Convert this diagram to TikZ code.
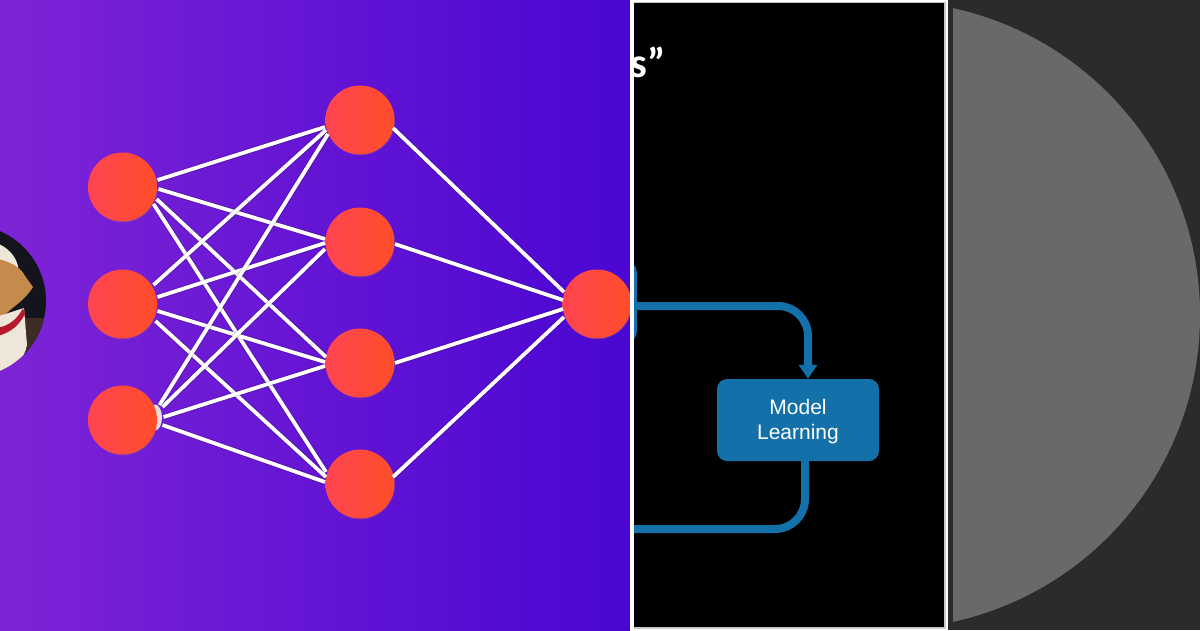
\documentclass[tikz,border=0pt]{standalone}
\usepackage{fontspec}
\setmainfont{Liberation Sans}
\newfontfamily\quotefont{Carlito}
\usetikzlibrary{arrows.meta,shadows}
\definecolor{blueflow}{HTML}{1470A8}
\definecolor{frameg}{HTML}{C8C8C8}
\definecolor{darkbg}{HTML}{2B2B2B}
\definecolor{greydisc}{HTML}{696969}
\definecolor{furtan}{HTML}{C58B4C}
\definecolor{furlight}{HTML}{EFE6DA}
\definecolor{collarred}{HTML}{B8182E}
\definecolor{photodark}{HTML}{14141C}
\definecolor{photobrown}{HTML}{3B2C26}
\tikzset{
  neuron/.style={circle,minimum size=69pt,inner sep=0pt,
    left color={rgb,255:red,255;green,68;blue,80},right color={rgb,255:red,255;green,78;blue,42},
    drop shadow={shadow xshift=.6pt,shadow yshift=-1pt,opacity=.25}},
  synapse/.style={draw=white,line width=3.8pt,preaction={draw=black,draw opacity=.15,line width=5.8pt}},
  flowbox/.style={fill=blueflow,rounded corners=10pt,inner sep=0pt},
  flowtext/.style={text=white,align=center,inner sep=0pt,font=\fontsize{21}{25.5}\selectfont},
  flowline/.style={draw=blueflow,line width=8pt,rounded corners=30pt}
}
\begin{document}
\begin{tikzpicture}[x=1pt,y=-1pt]
\useasboundingbox (0,0) rectangle (1200,630);
\fill[white] (0,0) rectangle (1200,630);
% left purple panel
\begin{scope}
\clip (0,0) rectangle (630,630);
\shade[left color={rgb,255:red,126;green,36;blue,214},middle color={rgb,255:red,96;green,18;blue,218},right color={rgb,255:red,74;green,6;blue,210}] (0,0) rectangle (630,630);
% photo
\begin{scope}
\clip (-30,301) circle (76);
\fill[photodark] (-110,220) rectangle (50,380);
\fill[photobrown] (24,318) rectangle (50,380);
\fill[furlight] (-20,240) .. controls (-2,240) and (14,250) .. (18,266) -- (18,285) -- (-20,285) -- cycle;
\fill[furtan] (-20,258) .. controls (5,256) and (22,268) .. (25,276) -- (33,287) .. controls (25,300) and (14,306) .. (8,312) .. controls (0,318) and (-10,318) .. (-20,318) -- cycle;
\fill[furlight] (-20,322) -- (24,308) -- (27,345) .. controls (24,360) and (15,372) .. (-20,380) -- cycle;
\fill[collarred] (-20,326) .. controls (0,332) and (15,324) .. (23,308) -- (25,314) .. controls (18,328) and (5,338) .. (-20,338) -- cycle;
\end{scope}
% white patch behind the lower left neuron
\fill[white!88!black] (155,417.5) ellipse (7 and 13);
% neurons
\node[neuron] (a1) at (122.5,187) {};
\node[neuron] (a2) at (122.5,304) {};
\node[neuron] (a3) at (122.5,420) {};
\node[neuron] (b1) at (360,120) {};
\node[neuron] (b2) at (360,242) {};
\node[neuron] (b3) at (360,363) {};
\node[neuron] (b4) at (360,484) {};
\node[neuron] (c1) at (597,304) {};
% connectors: source node, offset, target node, offset
\foreach \s/\sx/\sy/\t/\tx/\ty in {
  a1/35/-7/b1/-35/7,  a1/36/2/b2/-35/-3,   a1/34/12/b3/-34/-6,  a1/31/17/b4/-34/-12,
  a2/31/-19/b1/-34/10, a2/35/-7/b2/-35/1,  a2/35/7/b3/-35/-1,   a2/33/17/b4/-34/-7,
  a3/37/-15/b1/-32/14, a3/40/-13/b2/-35/7, a3/41/-3/b3/-35/3,   a3/40/5/b4/-35/-2,
  b1/33/8/c1/-33/-12,  b2/35/2/c1/-34/-4,  b3/35/0/c1/-34/5,    b4/33/-7/c1/-33/13}
{\draw[synapse] ([shift={(\sx,\sy)}]\s.center) -- ([shift={(\tx,\ty)}]\t.center);}
\end{scope}
% black panel
\fill[white] (630,0) rectangle (948,630);
\fill[frameg] (634,1.5) rectangle (945.5,628.5);
\fill[black] (634,3) rectangle (943.5,627);
\begin{scope}
\clip (634,3) rectangle (943.5,627);
\node[flowbox,minimum width=40pt,minimum height=80pt,anchor=east] (src) at (637,302) {};
\node[anchor=base east,text=white,font=\quotefont\bfseries\fontsize{42}{42}\selectfont,inner sep=0pt] (ttl) at (666,77.5) {s”};
\node[flowbox,minimum width=162pt,minimum height=82pt] (ml) at (798,420) {};
\node[flowtext] (mltext) at ([yshift=-1.5pt]ml.center) {Model\\Learning};
\coordinate (outa) at (src.east |- 0,306);
\coordinate (inb) at (620,529);
\draw[flowline,-{Triangle[width=18pt,length=14pt]}] (outa) -| ([xshift=10pt]ml.north);
\draw[flowline] ([xshift=7pt]ml.south) |- (inb);
\end{scope}
% right dark panel
\fill[darkbg] (948,0) rectangle (1200,630);
\begin{scope}
\clip (953,0) rectangle (1200,630);
\fill[greydisc] (886,315) circle (314);
\end{scope}
\end{tikzpicture}
\end{document}
